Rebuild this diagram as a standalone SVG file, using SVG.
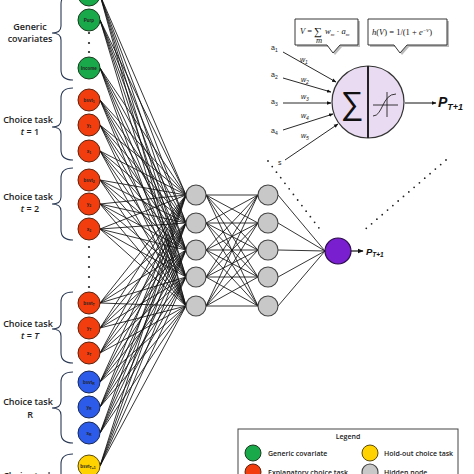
<svg xmlns="http://www.w3.org/2000/svg" width="474" height="474" viewBox="0 0 474 474">
<defs>
<style>
.lbl{font-family:"Open Sans","Liberation Sans",sans-serif;font-weight:600;font-size:9px;fill:#222;text-anchor:middle}
.nt{font-family:"Liberation Sans",sans-serif;font-size:4.5px;fill:#222;text-anchor:middle;font-weight:bold}
.lg{font-family:"Open Sans","Liberation Sans",sans-serif;font-weight:600;font-size:7px;fill:#222}
.fx{font-family:"Liberation Serif",serif;font-style:italic;font-size:8.5px;fill:#111}
.ax{font-family:"Liberation Sans",sans-serif;font-size:7px;fill:#222}
.wx{font-family:"Liberation Sans",sans-serif;font-style:italic;font-size:7px;fill:#222}
.conn{stroke:#111;stroke-width:0.85;fill:none}
.brace{stroke:#2b3a55;stroke-width:1.1;fill:none}
.g{fill:#1aa94a;stroke:#1b3a1f;stroke-width:1}
.r{fill:#f23d0e;stroke:#5a2410;stroke-width:1}
.b{fill:#2c5bea;stroke:#1a2a55;stroke-width:1}
.y{fill:#ffd200;stroke:#5a4a10;stroke-width:1}
.h{fill:#c8c8c8;stroke:#444;stroke-width:1.1}
.dot{stroke:#222;stroke-width:1.8;stroke-linecap:round;stroke-dasharray:0 7;fill:none}
.pt{font-family:"Liberation Sans",sans-serif;font-weight:bold;font-style:italic;fill:#111}
</style>
<marker id="ar2" viewBox="0 0 10 10" refX="9" refY="5" markerWidth="5" markerHeight="5" orient="auto"><path d="M0 1 L10 5 L0 9 Z" fill="#111"/></marker>
</defs>
<rect width="474" height="474" fill="#fff"/>

<g id="connectors">
<path class="conn" d="M100 -5 L186 195 M100 -5 L186 223 M100 -5 L186 250 M100 -5 L186 277 M100 -5 L186 306"/>
<path class="conn" d="M100 20 L186 195 M100 20 L186 223 M100 20 L186 250 M100 20 L186 277 M100 20 L186 306"/>
<path class="conn" d="M100 68 L186 195 M100 68 L186 223 M100 68 L186 250 M100 68 L186 277 M100 68 L186 306"/>
<path class="conn" d="M100 100 L186 195 M100 100 L186 223 M100 100 L186 250 M100 100 L186 277 M100 100 L186 306"/>
<path class="conn" d="M100 125 L186 195 M100 125 L186 223 M100 125 L186 250 M100 125 L186 277 M100 125 L186 306"/>
<path class="conn" d="M100 151 L186 195 M100 151 L186 223 M100 151 L186 250 M100 151 L186 277 M100 151 L186 306"/>
<path class="conn" d="M100 180 L186 195 M100 180 L186 223 M100 180 L186 250 M100 180 L186 277 M100 180 L186 306"/>
<path class="conn" d="M100 204 L186 195 M100 204 L186 223 M100 204 L186 250 M100 204 L186 277 M100 204 L186 306"/>
<path class="conn" d="M100 229 L186 195 M100 229 L186 223 M100 229 L186 250 M100 229 L186 277 M100 229 L186 306"/>
<path class="conn" d="M100 303 L186 195 M100 303 L186 223 M100 303 L186 250 M100 303 L186 277 M100 303 L186 306"/>
<path class="conn" d="M100 328 L186 195 M100 328 L186 223 M100 328 L186 250 M100 328 L186 277 M100 328 L186 306"/>
<path class="conn" d="M100 353 L186 195 M100 353 L186 223 M100 353 L186 250 M100 353 L186 277 M100 353 L186 306"/>
<path class="conn" d="M100 382 L186 195 M100 382 L186 223 M100 382 L186 250 M100 382 L186 277 M100 382 L186 306"/>
<path class="conn" d="M100 407 L186 195 M100 407 L186 223 M100 407 L186 250 M100 407 L186 277 M100 407 L186 306"/>
<path class="conn" d="M100 433 L186 195 M100 433 L186 223 M100 433 L186 250 M100 433 L186 277 M100 433 L186 306"/>
<path class="conn" d="M100 466 L186 195 M100 466 L186 223 M100 466 L186 250 M100 466 L186 277 M100 466 L186 306"/>
<path class="conn" d="M206 195 L258 195 M206 195 L258 223 M206 195 L258 250 M206 195 L258 277 M206 195 L258 306
M206 223 L258 195 M206 223 L258 223 M206 223 L258 250 M206 223 L258 277 M206 223 L258 306
M206 250 L258 195 M206 250 L258 223 M206 250 L258 250 M206 250 L258 277 M206 250 L258 306
M206 277 L258 195 M206 277 L258 223 M206 277 L258 250 M206 277 L258 277 M206 277 L258 306
M206 306 L258 195 M206 306 L258 223 M206 306 L258 250 M206 306 L258 277 M206 306 L258 306"/>
<path class="conn" d="M278 195 L325 251 M278 223 L325 251 M278 250 L325 251 M278 277 L325 251 M278 306 L325 251"/>
<line x1="351" y1="251" x2="363" y2="251" stroke="#111" stroke-width="1.2" marker-end="url(#ar2)"/>
<path class="dot" d="M268 161 L322 232"/>
<path class="dot" d="M446 160 L362 232"/>
<line x1="283" y1="52" x2="336" y2="82" stroke="#111" stroke-width="0.9" marker-end="url(#ar2)"/>
<line x1="283" y1="78" x2="331" y2="92" stroke="#111" stroke-width="0.9" marker-end="url(#ar2)"/>
<line x1="283" y1="103" x2="331" y2="103" stroke="#111" stroke-width="0.9" marker-end="url(#ar2)"/>
<line x1="283" y1="130" x2="333" y2="114" stroke="#111" stroke-width="0.9" marker-end="url(#ar2)"/>
<line x1="285" y1="160" x2="338" y2="124" stroke="#111" stroke-width="0.9" marker-end="url(#ar2)"/>
<line x1="405" y1="103" x2="436" y2="103" stroke="#111" stroke-width="1" marker-end="url(#ar2)"/>
</g>

<g id="braces">
<path class="brace" d="M73 -6 Q61 -6 61 4 L61 26 Q61 33 52 33 Q61 33 61 40 L61 70 Q61 80 73 80"/>
<path class="brace" d="M73 88 Q61 88 61 98 L61 120 Q61 127 52 127 Q61 127 61 134 L61 150 Q61 160 73 160"/>
<path class="brace" d="M73 168 Q61 168 61 178 L61 197 Q61 204 52 204 Q61 204 61 211 L61 230 Q61 240 73 240"/>
<path class="brace" d="M73 292 Q61 292 61 302 L61 322 Q61 329 52 329 Q61 329 61 336 L61 353 Q61 363 73 363"/>
<path class="brace" d="M73 372 Q61 372 61 382 L61 401 Q61 408 52 408 Q61 408 61 415 L61 433 Q61 443 73 443"/>
<path class="brace" d="M73 454 Q61 454 61 464 L61 480"/>
</g>

<g id="group-labels">
<text class="lbl" x="30" y="30">Generic</text>
<text class="lbl" x="30" y="42">covariates</text>
<text class="lbl" x="28" y="123">Choice task</text>
<text class="lbl" x="30" y="135"><tspan font-style="italic">t</tspan> = 1</text>
<text class="lbl" x="28" y="200">Choice task</text>
<text class="lbl" x="30" y="212"><tspan font-style="italic">t</tspan> = 2</text>
<text class="lbl" x="28" y="327">Choice task</text>
<text class="lbl" x="30" y="339"><tspan font-style="italic">t</tspan> = <tspan font-style="italic">T</tspan></text>
<text class="lbl" x="28" y="405">Choice task</text>
<text class="lbl" x="30" y="418">R</text>
<text class="lbl" x="28" y="479">Choice task</text>
</g>

<g id="input-dots" fill="#222">
<circle cx="89" cy="33" r="1.1"/><circle cx="89" cy="43" r="1.1"/><circle cx="89" cy="52" r="1.1"/>
<circle cx="89" cy="247" r="1.1"/><circle cx="89" cy="257" r="1.1"/><circle cx="89" cy="267" r="1.1"/><circle cx="89" cy="277" r="1.1"/><circle cx="89" cy="287" r="1.1"/>
</g>

<g id="in-g0"><circle class="g" cx="89" cy="-5" r="11"/></g>
<g id="in-purp"><circle class="g" cx="89" cy="20" r="11"/><text class="nt" x="89" y="21.5">Purp</text></g>
<g id="in-income"><circle class="g" cx="89" cy="68" r="11"/><text class="nt" x="89" y="69.5">Income</text></g>
<g id="in-bsvt1"><circle class="r" cx="89" cy="100" r="11"/><text class="nt" x="89" y="101.5">bsvt<tspan font-size="3.5" dy="1">1</tspan></text></g>
<g id="in-y1"><circle class="r" cx="89" cy="125" r="11"/><text class="nt" x="89" y="126.5">y<tspan font-size="3.5" dy="1">1</tspan></text></g>
<g id="in-x1"><circle class="r" cx="89" cy="151" r="11"/><text class="nt" x="89" y="152.5">x<tspan font-size="3.5" dy="1">1</tspan></text></g>
<g id="in-bsvt2"><circle class="r" cx="89" cy="180" r="11"/><text class="nt" x="89" y="181.5">bsvt<tspan font-size="3.5" dy="1">2</tspan></text></g>
<g id="in-y2"><circle class="r" cx="89" cy="204" r="11"/><text class="nt" x="89" y="205.5">y<tspan font-size="3.5" dy="1">2</tspan></text></g>
<g id="in-x2"><circle class="r" cx="89" cy="229" r="11"/><text class="nt" x="89" y="230.5">x<tspan font-size="3.5" dy="1">2</tspan></text></g>
<g id="in-bsvtT"><circle class="r" cx="89" cy="303" r="11"/><text class="nt" x="89" y="304.5">bsvt<tspan font-size="3.5" dy="1">T</tspan></text></g>
<g id="in-yT"><circle class="r" cx="89" cy="328" r="11"/><text class="nt" x="89" y="329.5">y<tspan font-size="3.5" dy="1">T</tspan></text></g>
<g id="in-xT"><circle class="r" cx="89" cy="353" r="11"/><text class="nt" x="89" y="354.5">x<tspan font-size="3.5" dy="1">T</tspan></text></g>
<g id="in-bsvtR"><circle class="b" cx="89" cy="382" r="11"/><text class="nt" x="89" y="383.5">bsvt<tspan font-size="3.5" dy="1">R</tspan></text></g>
<g id="in-yR"><circle class="b" cx="89" cy="407" r="11"/><text class="nt" x="89" y="408.5">y<tspan font-size="3.5" dy="1">R</tspan></text></g>
<g id="in-xR"><circle class="b" cx="89" cy="433" r="11"/><text class="nt" x="89" y="434.5">x<tspan font-size="3.5" dy="1">R</tspan></text></g>
<g id="in-bsvtH"><circle class="y" cx="89" cy="466" r="11"/><text class="nt" x="88" y="467.5">bsvt<tspan font-size="3.5" dy="1">T+1</tspan></text></g>

<g id="h1-1"><circle class="h" cx="196" cy="195" r="10"/></g>
<g id="h1-2"><circle class="h" cx="196" cy="223" r="10"/></g>
<g id="h1-3"><circle class="h" cx="196" cy="250" r="10"/></g>
<g id="h1-4"><circle class="h" cx="196" cy="277" r="10"/></g>
<g id="h1-5"><circle class="h" cx="196" cy="306" r="10"/></g>
<g id="h2-1"><circle class="h" cx="268" cy="195" r="10"/></g>
<g id="h2-2"><circle class="h" cx="268" cy="223" r="10"/></g>
<g id="h2-3"><circle class="h" cx="268" cy="250" r="10"/></g>
<g id="h2-4"><circle class="h" cx="268" cy="277" r="10"/></g>
<g id="h2-5"><circle class="h" cx="268" cy="306" r="10"/></g>

<g id="output"><circle cx="338" cy="251" r="13" fill="#7a1fd0" stroke="#2a0a4a" stroke-width="1.2"/>
<text class="pt" x="366" y="255" font-size="9.5">P<tspan font-size="6.5" dy="2">T+1</tspan></text></g>

<g id="neuron">
<circle cx="368" cy="102" r="36" fill="#e9dbf1" stroke="#333" stroke-width="1.2"/>
<line x1="368" y1="66" x2="368" y2="138" stroke="#222" stroke-width="2"/>
<text x="352" y="114" font-family="Liberation Sans, sans-serif" font-size="32" text-anchor="middle" fill="#111">∑</text>
<line x1="373" y1="105" x2="398" y2="105" stroke="#222" stroke-width="0.9"/>
<line x1="387" y1="92" x2="387" y2="117" stroke="#222" stroke-width="0.9"/>
<path d="M373 116 C383 116 382 94 396 94" stroke="#222" stroke-width="0.9" fill="none"/>
<text class="pt" x="438" y="107" font-size="14">P<tspan font-size="9" dy="3">T+1</tspan></text>
<text class="ax" x="271" y="50">a<tspan font-size="5" dy="1.5">1</tspan></text>
<text class="wx" x="300" y="62">w<tspan font-size="5" dy="1.5">1</tspan></text>
<text class="ax" x="271" y="77">a<tspan font-size="5" dy="1.5">2</tspan></text>
<text class="wx" x="301" y="82">w<tspan font-size="5" dy="1.5">2</tspan></text>
<text class="ax" x="271" y="104">a<tspan font-size="5" dy="1.5">3</tspan></text>
<text class="wx" x="301" y="99">w<tspan font-size="5" dy="1.5">3</tspan></text>
<text class="ax" x="271" y="133">a<tspan font-size="5" dy="1.5">4</tspan></text>
<text class="wx" x="301" y="118">w<tspan font-size="5" dy="1.5">4</tspan></text>
<text class="wx" x="301" y="138">w<tspan font-size="5" dy="1.5">5</tspan></text>
<text class="ax" x="278" y="165">s</text>
</g>

<g id="formula1">
<path d="M297 21 H360 V47 H342 L335 55 L329 47 H297 Z" fill="#bbb"/>
<path d="M295 19 H358 V45 H340 L333 53 L327 45 H295 Z" fill="#fff" stroke="#222" stroke-width="0.9"/>
<text class="fx" x="300" y="34">V <tspan font-style="normal">=</tspan></text>
<text x="314" y="35" font-family="Liberation Serif, serif" font-size="11" fill="#111">∑</text>
<text class="fx" x="316" y="43" font-size="4.5">m</text>
<text class="fx" x="325" y="34">w<tspan font-size="5" dy="1.5">m</tspan><tspan dy="-1.5" font-style="normal"> · </tspan>a<tspan font-size="5" dy="1.5">m</tspan></text>
</g>
<g id="formula2">
<path d="M370 21 H449 V47 H409 L402 55 L396 47 H370 Z" fill="#bbb"/>
<path d="M368 19 H447 V45 H407 L400 53 L394 45 H368 Z" fill="#fff" stroke="#222" stroke-width="0.9"/>
<text class="fx" x="372" y="35">h<tspan font-style="normal">(</tspan>V<tspan font-style="normal">) = 1/(1 + </tspan>e<tspan font-size="5" dy="-3.5">−V</tspan><tspan font-style="normal" dy="3.5">)</tspan></text>
</g>

<g id="legend">
<rect x="238" y="429" width="220" height="60" fill="#fff" stroke="#444" stroke-width="1"/>
<text class="lg" x="348" y="439" text-anchor="middle" font-size="8.5">Legend</text>
<circle class="g" cx="253" cy="453" r="8"/>
<text class="lg" x="268" y="455.5">Generic covariate</text>
<circle class="y" cx="370" cy="453" r="8"/>
<text class="lg" x="384" y="455.5">Hold-out choice task</text>
<circle class="r" cx="253" cy="472" r="8"/>
<text class="lg" x="268" y="474.5">Explanatory choice task</text>
<circle class="h" cx="370" cy="472" r="8"/>
<text class="lg" x="384" y="474.5">Hidden node</text>
</g>
</svg>
